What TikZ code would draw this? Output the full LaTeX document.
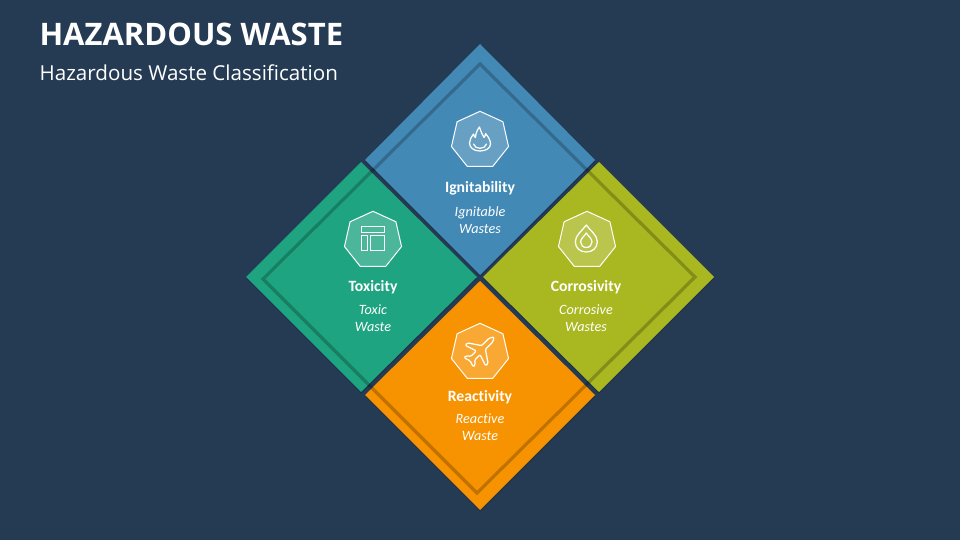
\documentclass[tikz,border=0pt]{standalone}
\usepackage{fontspec}
\setmainfont{Open Sans}
\newfontfamily\labelfont[Ligatures=NoCommon]{Carlito}
\definecolor{bgnavy}{HTML}{253B54}
\definecolor{gapnavy}{HTML}{1D2F46}
\definecolor{cblue}{HTML}{4389B5}
\definecolor{cgreen}{HTML}{1FA481}
\definecolor{cyellow}{HTML}{A9B721}
\definecolor{corange}{HTML}{F79300}
\tikzset{
  tile/.style={preaction={fill=gapnavy,transform canvas={yshift=-1.5pt}}},
  septagon/.style={draw=white,line width=1pt,fill=white,fill opacity=0.2,line join=round},
  pictogram/.style={draw=white,line width=1.25pt,line join=round,line cap=round},
  heading/.style={text=white,font=\labelfont\bfseries\fontsize{15.7}{17}\selectfont,inner sep=0pt,anchor=base},
  caption/.style={text=white,font=\labelfont\itshape\fontsize{14.2}{17}\selectfont,inner sep=0pt,anchor=base},
}
\newcommand{\septagonat}[3]{%
  \node[inner sep=0pt,minimum size=0pt] (#3) at (#1,#2) {};
  \draw[septagon] (#1,#2-29.3)
   -- ++(22.9,10.45) -- ++(5.65,24.79) -- ++(-15.85,19.88) -- ++(-25.4,0)
   -- ++(-15.85,-19.88) -- ++(5.65,-24.79) -- cycle;}
\begin{document}
\begin{tikzpicture}[x=1pt,y=-1pt]
\useasboundingbox (0,0) rectangle (960,540);
\fill[bgnavy] (0,0) rectangle (960,540);
% tiles
\path[tile,fill=cgreen]  (246,277) -- (361,162) -- (477,277) -- (361,392) -- cycle;
\path[tile,fill=cyellow] (714,277) -- (599,162) -- (483,277) -- (599,392) -- cycle;
\path[tile,fill=corange] (480,281) -- (595,395) -- (480,510) -- (365,395) -- cycle;
\path[tile,fill=cblue]   (480,44) -- (595,160) -- (480,275) -- (365,160) -- cycle;
% inner outline
\draw[black,opacity=0.22,line width=3.2pt,line join=miter]
  (480,64) -- (695,277) -- (477,493) -- (263,279) -- cycle;
% septagons
\septagonat{480}{140.6}{sa}
\septagonat{373}{240.6}{sb}
\septagonat{587}{240.6}{sc}
\septagonat{480}{352.6}{sd}
% flame
\draw[pictogram] (479.5,127) .. controls (481,132) and (482.5,135) .. (484,137.5)
  .. controls (485,136.5) and (485.5,135) .. (485.5,133.5)
  .. controls (488.5,137) and (490.5,140.5) .. (490.5,144)
  .. controls (490.5,148) and (486,151) .. (480,151)
  .. controls (473.5,151) and (469.5,147.5) .. (469.5,143)
  .. controls (469.5,139.5) and (471.5,137) .. (473.5,134)
  .. controls (474,136) and (474.5,137) .. (475.5,137.5)
  .. controls (475.5,134) and (477,130) .. (479.5,127) -- cycle;
\draw[pictogram] (473.5,144) .. controls (474.5,147) and (477,148.3) .. (480,148.3)
  .. controls (483,148.3) and (485.5,147) .. (486.5,144);
% layout
\draw[pictogram,line width=1pt,line join=miter] (361,226) rectangle (384.3,232);
\draw[pictogram,line width=1pt,line join=miter] (361,235.2) rectangle (367.3,250);
\draw[pictogram,line width=1pt,line join=miter] (370,235.2) rectangle (384.3,250);
% drop
\draw[pictogram] (586.3,225) .. controls (590,230.5) and (597.3,235) .. (597.3,241.7)
  .. controls (597.3,248) and (592.5,252) .. (586.3,252)
  .. controls (580.1,252) and (575.3,248) .. (575.3,241.7)
  .. controls (575.3,235) and (582.6,230.5) .. (586.3,225) -- cycle;
\draw[pictogram] (586.3,233) .. controls (588,236) and (592,238.5) .. (592,242)
  .. controls (592,245) and (589.5,247.5) .. (586.3,247.5)
  .. controls (583.1,247.5) and (580.6,245) .. (580.6,242)
  .. controls (580.6,238.5) and (584.6,236) .. (586.3,233) -- cycle;
% plane
\begin{scope}[shift={(480,351)},rotate=-45]
\draw[pictogram,rounded corners=1.2pt] (0,-20) -- (2.6,-15.5) -- (2.6,-5) -- (14.5,3) -- (14.5,6.5)
  -- (2.6,2.5) -- (2.6,10) -- (6.5,13.5) -- (6.5,16) -- (0,14)
  -- (-6.5,16) -- (-6.5,13.5) -- (-2.6,10) -- (-2.6,2.5) -- (-14.5,6.5) -- (-14.5,3)
  -- (-2.6,-5) -- (-2.6,-15.5) -- cycle;
\end{scope}
% texts
\node[heading] (ta) at (480,192.5) {Ignitability};
\node[caption] (ca1) at (480,216) {Ignitable};
\node[caption] (ca2) at (480,233.2) {Wastes};
\node[heading] (tb) at (373,291.5) {Toxicity};
\node[caption] (cb1) at (373,314) {Toxic};
\node[caption] (cb2) at (373,331.2) {Waste};
\node[heading] (tc) at (586,291.5) {Corrosivity};
\node[caption] (cc1) at (586,314) {Corrosive};
\node[caption] (cc2) at (586,331.2) {Wastes};
\node[heading] (td) at (480,401.5) {Reactivity};
\node[caption] (cd1) at (480,423) {Reactive};
\node[caption] (cd2) at (480,440) {Waste};
\node[text=white,font=\bfseries\fontsize{31}{36}\selectfont,inner sep=0pt,anchor=base west] (title) at (39.3,45.5) {HAZARDOUS WASTE};
\node[text=white,font=\fontsize{20.6}{24}\selectfont,inner sep=0pt,anchor=base west] (subtitle) at (39.5,81) {Hazardous Waste Classification};
\end{tikzpicture}
\end{document}
